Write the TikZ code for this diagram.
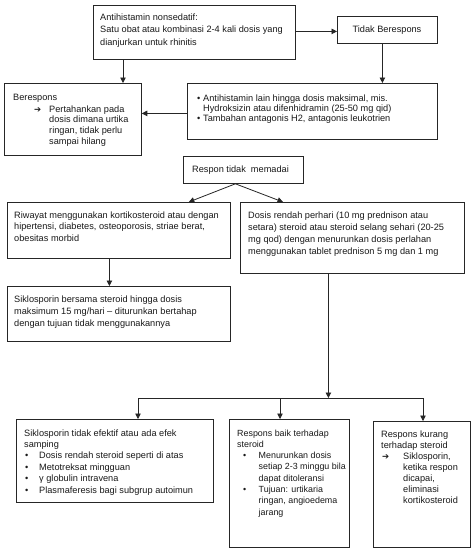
\documentclass[tikz,border=0pt]{standalone}
\usepackage{fontspec}
\setmainfont{Liberation Sans}
\newfontfamily\djv{DejaVu Sans}
\usetikzlibrary{arrows.meta}
\newcommand{\arw}{{\djv\fontsize{8.5}{8.5}\selectfont ➔}}
\newcommand{\mc}[1]{\multicolumn{2}{@{}l@{}}{#1}}
\begin{document}
\begin{tikzpicture}[x=1pt,y=-1pt,
 box/.style={draw=black!85, line width=0.8pt, rectangle, inner sep=0pt, anchor=north west},
 txt/.style={inner sep=0pt, anchor=base west, font=\fontsize{9.2}{11.3}\selectfont, text=black!90},
 arr/.style={draw=black!85, line width=0.8pt, -{Triangle[length=5.5pt,width=5.5pt]}},
 ln/.style={draw=black!85, line width=0.8pt}]
\useasboundingbox (0,0) rectangle (474,552);
\fill[white] (0,0) rectangle (474,552);

% row 1
\node[box, minimum width=202pt, minimum height=54pt] (a1) at (93,5) {};
\node[txt, font=\fontsize{9.2}{12.5}\selectfont] (t1) at (100,20) {\begin{tabular}[t]{@{}l@{}}Antihistamin nonsedatif:\\Satu obat atau kombinasi 2-4 kali dosis yang\\dianjurkan untuk rhinitis\end{tabular}};

\node[box, minimum width=100pt, minimum height=27pt] (tb) at (337,16) {};
\node[txt, anchor=base] (t2) at (387,32) {Tidak Berespons};

% row 2
\node[box, minimum width=137pt, minimum height=72pt] (ber) at (4,83) {};
\node[txt, font=\fontsize{9.2}{10.7}\selectfont] (t3) at (13,100) {\begin{tabular}[t]{@{}p{36pt}@{}l@{}}\mc{Berespons}\\[1.3pt]\hspace*{21pt}\arw & Pertahankan pada\\ & dosis dimana urtika\\ & ringan, tidak perlu\\ & sampai hilang\end{tabular}};

\node[box, minimum width=250pt, minimum height=56pt] (al) at (187,83) {};
\node[txt, font=\fontsize{9.2}{10.2}\selectfont] (t4) at (197,101) {\begin{tabular}[t]{@{}p{6pt}@{}l@{}}•&Antihistamin lain hingga dosis maksimal, mis.\\&Hydroksizin atau difenhidramin (25-50 mg qid)\\•&Tambahan antagonis H2, antagonis leukotrien\end{tabular}};

% row 3
\node[box, minimum width=120pt, minimum height=27pt] (rtm) at (183,156) {};
\node[txt] (t5) at (192,172) {Respon tidak\ \ memadai};

% row 4
\node[box, minimum width=223pt, minimum height=56pt] (riw) at (7,202) {};
\node[txt, font=\fontsize{9.2}{11.7}\selectfont] (t6) at (14,218) {\begin{tabular}[t]{@{}l@{}}Riwayat menggunakan kortikosteroid atau dengan\\hipertensi, diabetes, osteoporosis, striae berat,\\obesitas morbid\end{tabular}};

\node[box, minimum width=224pt, minimum height=71pt] (dos) at (240,202) {};
\node[txt, font=\fontsize{9.2}{12}\selectfont] (t7) at (248,218) {\begin{tabular}[t]{@{}l@{}}Dosis rendah perhari (10 mg prednison atau\\setara) steroid atau steroid selang sehari (20-25\\mg qod) dengan menurunkan dosis perlahan\\menggunakan tablet prednison 5 mg dan 1 mg\end{tabular}};

% row 5
\node[box, minimum width=223pt, minimum height=55pt] (sik) at (7,286) {};
\node[txt, font=\fontsize{9.2}{12}\selectfont] (t8) at (14,302) {\begin{tabular}[t]{@{}l@{}}Siklosporin bersama steroid hingga dosis\\maksimum 15 mg/hari – diturunkan bertahap\\dengan tujuan tidak menggunakannya\end{tabular}};

% row 6
\node[box, minimum width=197pt, minimum height=83pt] (bA) at (16,419) {};
\node[txt, font=\fontsize{9.2}{11.4}\selectfont] (t9) at (24,436) {\begin{tabular}[t]{@{}p{15pt}@{}l@{}}\mc{Siklosporin tidak efektif atau ada efek}\\\mc{samping}\\\hspace*{1pt}•&Dosis rendah steroid seperti di atas\\\hspace*{1pt}•&Metotreksat mingguan\\\hspace*{1pt}•&γ globulin intravena\\\hspace*{1pt}•&Plasmaferesis bagi subgrup autoimun\end{tabular}};

\node[box, minimum width=120pt, minimum height=128pt] (bB) at (229,419) {};
\node[txt, font=\fontsize{8.9}{11.3}\selectfont] (t10) at (237,436) {\begin{tabular}[t]{@{}p{21.5pt}@{}l@{}}\mc{Respons baik terhadap}\\\mc{steroid}\\\hspace*{6pt}•&Menurunkan dosis\\&setiap 2-3 minggu bila\\&dapat ditoleransi\\\hspace*{6pt}•&Tujuan: urtikaria\\&ringan, angioedema\\&jarang\end{tabular}};

\node[box, minimum width=97pt, minimum height=126pt] (bC) at (373,421) {};
\node[txt, font=\fontsize{9.2}{11.1}\selectfont] (t11) at (381,437) {\begin{tabular}[t]{@{}p{22pt}@{}l@{}}\mc{Respons kurang}\\\mc{terhadap steroid}\\\hspace*{1pt}\arw&Siklosporin,\\&ketika respon\\&dicapai,\\&eliminasi\\&kortikosteroid\end{tabular}};

% connectors
\draw[arr] ([yshift=1pt]a1.east) -- ([yshift=1pt]a1.east -| tb.west);
\draw[arr] ([xshift=30pt]a1.south west) -- ([xshift=30pt]a1.south west |- ber.north);
\draw[arr] ([xshift=-5pt]tb.south) -- ([xshift=-5pt]tb.south |- al.north);
\draw[arr] ([yshift=-2pt]al.west) -- ([yshift=-2pt]al.west -| ber.east);
\draw[arr] ([xshift=-8pt]rtm.south) -- ([xshift=-42pt]riw.north east);
\draw[arr] ([xshift=-8pt]rtm.south) -- ([xshift=43pt]dos.north west);
\draw[arr] ([xshift=-9.5pt]riw.south) -- ([xshift=-9.5pt]riw.south |- sik.north);

\coordinate (hl) at (138,398);
\coordinate (hm) at (280,398);
\coordinate (hr) at (423,398);
\draw[arr] ([xshift=-24pt]dos.south) -- ([xshift=-24pt]dos.south |- hm);
\draw[ln] (hl) -- (hr);
\draw[arr] (hl) -- (hl |- bA.north);
\draw[arr] (hm) -- (hm |- bB.north);
\draw[arr] (hr) -- (hr |- bC.north);
\end{tikzpicture}
\end{document}
